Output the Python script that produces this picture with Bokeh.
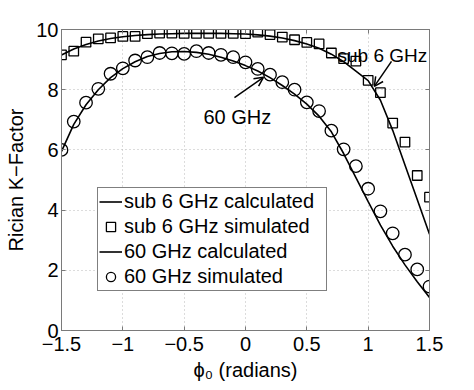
from bokeh.plotting import figure
from bokeh.models import (Range1d, FixedTicker, LinearAxis, Legend, LegendItem,
                          Label, Arrow, OpenHead)
from bokeh.embed import file_html
from bokeh.resources import INLINE

# ---------------- data ----------------
phi = [-1.5, -1.4, -1.3, -1.2, -1.1, -1.0, -0.9, -0.8, -0.7, -0.6, -0.5,
       -0.4, -0.3, -0.2, -0.1, 0.0, 0.1, 0.2, 0.3, 0.4, 0.5,
       0.6, 0.7, 0.8, 0.9, 1.0, 1.1, 1.2, 1.3, 1.4, 1.5]

sub6_calc = [9.15, 9.35, 9.50, 9.62, 9.70, 9.76, 9.80, 9.83, 9.85, 9.86, 9.87,
             9.87, 9.87, 9.87, 9.86, 9.85, 9.82, 9.78, 9.72, 9.63, 9.52,
             9.38, 9.18, 8.93, 8.62, 8.30, 7.65, 6.65, 5.50, 4.35, 3.20]

sub6_sim = [9.16, 9.28, 9.58, 9.69, 9.72, 9.77, 9.77, 9.86, 9.88, 9.88, 9.87,
            9.87, 9.87, 9.87, 9.87, 9.86, 9.91, 9.83, 9.75, 9.66, 9.57,
            9.52, 9.22, 9.03, 8.95, 8.31, 7.90, 6.89, 6.26, 5.15, 4.43]

ghz60_calc = [5.95, 6.85, 7.50, 8.00, 8.40, 8.70, 8.93, 9.10, 9.20, 9.26, 9.27,
              9.24, 9.18, 9.08, 8.95, 8.80, 8.62, 8.40, 8.14, 7.85, 7.52,
              7.12, 6.60, 5.88, 5.08, 4.28, 3.50, 2.80, 2.18, 1.62, 1.10]

ghz60_sim = [6.00, 6.94, 7.57, 8.03, 8.53, 8.71, 8.97, 9.08, 9.22, 9.21, 9.19,
             9.28, 9.22, 9.16, 9.08, 8.91, 8.69, 8.50, 8.25, 8.00, 7.58,
             7.29, 6.64, 6.02, 5.46, 4.71, 3.96, 3.23, 2.52, 2.03, 1.46]

x_ticks = [-1.5, -1.0, -0.5, 0.0, 0.5, 1.0, 1.5]
x_tick_labels = ["\u22121.5", "\u22121", "\u22120.5", "0", "0.5", "1", "1.5"]
y_ticks = [0, 2, 4, 6, 8, 10]

FONT = "Liberation Sans"
AX = "#7a7a7a"

# ---------------- figure ----------------
p = figure(width=470, height=386, output_backend="svg", toolbar_location=None,
           x_range=Range1d(-1.5, 1.5), y_range=Range1d(0, 10),
           min_border_left=61, min_border_right=41, min_border_top=29,
           min_border_bottom=56)

p.outline_line_color = AX
p.outline_line_width = 1
p.background_fill_color = "white"
p.border_fill_color = "white"

p.xaxis.ticker = FixedTicker(ticks=x_ticks)
p.yaxis.ticker = FixedTicker(ticks=y_ticks)
p.xaxis.major_label_overrides = {str(int(t)) if t == int(t) else str(t): lab
                                 for t, lab in zip(x_ticks, x_tick_labels)}

for ax in list(p.xaxis) + list(p.yaxis):
    ax.axis_line_color = AX
    ax.major_tick_line_color = AX
    ax.major_tick_in = 4
    ax.major_tick_out = 0
    ax.minor_tick_line_color = None
    ax.major_label_text_font = FONT
    ax.major_label_text_font_size = "20px"
    ax.major_label_text_color = "black"
    ax.axis_label_text_font = FONT
    ax.axis_label_text_font_size = "20px"
    ax.axis_label_text_font_style = "normal"
    ax.axis_label_text_color = "black"
p.xaxis.major_label_standoff = 6
p.yaxis.major_label_standoff = 3
p.xaxis.axis_label = "\u03d5\u2080 (radians)"
p.xaxis.axis_label_standoff = 5
p.yaxis.axis_label = "Rician K\u2212Factor"
p.yaxis.axis_label_standoff = 6

# mirrored ticks on top and right (no labels)
top = LinearAxis(ticker=FixedTicker(ticks=x_ticks), axis_line_color=AX,
                 major_tick_line_color=AX, major_tick_in=4, major_tick_out=0,
                 minor_tick_line_color=None, major_label_text_color=None,
                 major_label_standoff=0)
right = LinearAxis(ticker=FixedTicker(ticks=y_ticks), axis_line_color=AX,
                   major_tick_line_color=AX, major_tick_in=4, major_tick_out=0,
                   minor_tick_line_color=None, major_label_text_color=None,
                   major_label_standoff=0)
p.add_layout(top, "above")
p.add_layout(right, "right")

p.grid.grid_line_color = "#b8b8b8"
p.grid.grid_line_dash = "1 3"
p.grid.grid_line_width = 1

# ---------------- glyphs ----------------
r1 = p.line(phi, sub6_calc, line_color="black", line_width=1.6)
r2 = p.scatter(phi, sub6_sim, marker="square", size=9.5, fill_color=None,
               line_color="black", line_width=1.3)
r3 = p.line(phi, ghz60_calc, line_color="black", line_width=1.6)
r4 = p.scatter(phi, ghz60_sim, marker="circle", size=12.5, fill_color=None,
               line_color="black", line_width=1.3)

legend = Legend(items=[
    LegendItem(label="sub 6 GHz calculated", renderers=[r1]),
    LegendItem(label="sub 6 GHz simulated", renderers=[r2]),
    LegendItem(label="60 GHz calculated", renderers=[r3]),
    LegendItem(label="60 GHz simulated", renderers=[r4]),
], location=(36, 39))
legend.border_line_color = "black"
legend.border_line_width = 1
legend.background_fill_color = "white"
legend.background_fill_alpha = 1
legend.padding = 1
legend.spacing = 0
legend.margin = 0
legend.label_height = 25
legend.glyph_height = 25
legend.glyph_width = 23
legend.label_standoff = 2
legend.label_width = 201
legend.label_text_font = FONT
legend.label_text_font_size = "20px"
legend.label_text_color = "black"
p.add_layout(legend, "center")

# ---------------- annotations ----------------
p.add_layout(Label(x=-0.343, y=7.08, text="60 GHz", text_font=FONT,
                   text_font_size="20px", text_baseline="alphabetic",
                   text_align="left", text_color="black"))
p.add_layout(Label(x=0.75, y=9.14, text="sub 6 GHz", text_font=FONT,
                   text_font_size="19px", text_baseline="alphabetic",
                   text_align="left", text_color="black"))
p.add_layout(Arrow(end=OpenHead(size=9, line_width=1.5, line_color="black"),
                   x_start=-0.09, y_start=7.74, x_end=0.146, y_end=8.41,
                   line_width=1.5, line_color="black"))
p.add_layout(Arrow(end=OpenHead(size=9, line_width=1.5, line_color="black"),
                   x_start=1.19, y_start=8.94, x_end=1.05, y_end=8.11,
                   line_width=1.5, line_color="black"))

open("out.html", "w").write(file_html(p, INLINE))
